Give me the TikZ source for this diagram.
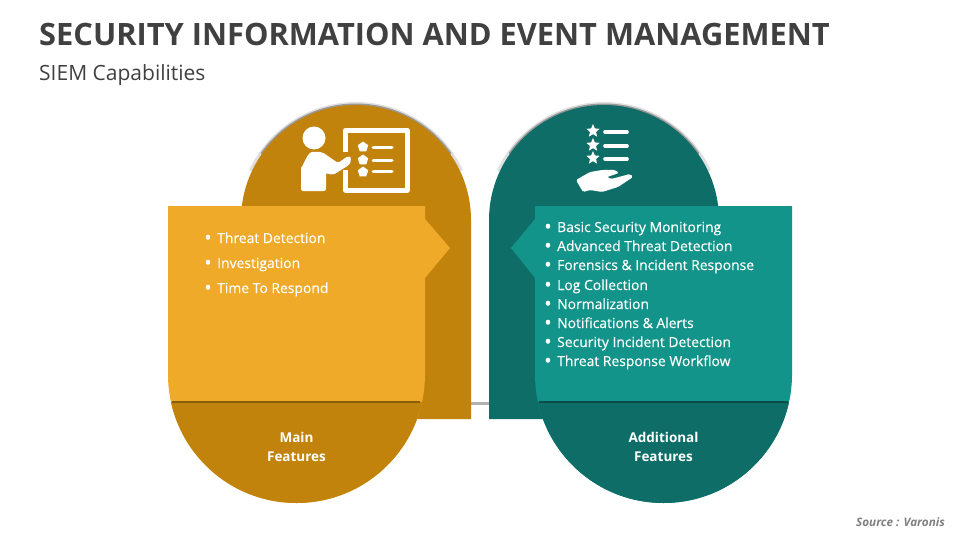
\documentclass[tikz,border=0pt]{standalone}
\usepackage{fontspec}
\setmainfont{Open Sans}
\newfontfamily\itemfont[FakeBold=0.25]{Open Sans}
\usetikzlibrary{shapes.geometric}
\definecolor{golddark}{HTML}{C2830D}
\definecolor{goldlight}{HTML}{EFAA29}
\definecolor{tealdark}{HTML}{0E6E67}
\definecolor{teallight}{HTML}{12948A}
\definecolor{titlegray}{HTML}{404040}
\tikzstyle{heading}=[anchor=base west, inner sep=0pt, text=titlegray]
\tikzstyle{item}=[anchor=base west, inner sep=0pt, text=white, font=\itemfont\fontsize{13.9}{16}\selectfont]
\tikzstyle{caption}=[align=center, inner sep=0pt, text=white, font=\fontsize{13.5}{19}\selectfont\bfseries]
\tikzstyle{iconline}=[white, line width=3.6pt, line cap=round]
\tikzstyle{iconstar}=[star, star points=5, star point ratio=2.2, fill=white, inner sep=0pt, minimum size=14pt]
\tikzstyle{iconpent}=[regular polygon, regular polygon sides=5, fill=white, inner sep=0pt, minimum size=11pt]
\newcommand{\bul}{\makebox[13pt][l]{\raisebox{-1.5pt}{\fontsize{20}{20}\selectfont\textbullet}}}
\begin{document}
\begin{tikzpicture}[x=1pt, y=-1pt]
    \useasboundingbox (0,0) rectangle (960,540);
    \node[heading, font=\fontsize{30.8}{36}\selectfont\bfseries] (title) at (39,46) {SECURITY INFORMATION AND EVENT MANAGEMENT};
    \node[heading, font=\fontsize{21}{24}\selectfont] (subtitle) at (39,81) {SIEM Capabilities};
    \node[anchor=base east, inner sep=0pt, text=gray, font=\fontsize{11.7}{12}\selectfont\bfseries\itshape] (source) at (945,526) {Source : Varonis};
    % link behind the two arches
    \coordinate (linkl) at (471,403);
    \coordinate (linkr) at (489,403);
    \draw[black!30, line width=3pt] (linkl)--(linkr);
    % soft edge of the arches
    \draw[black!12, line width=4pt] (356,220) ++(205:116) arc[start angle=205, end angle=335, radius=116];
    \draw[black!40, line width=2pt] (356,220) ++(215:115.5) arc[start angle=215, end angle=325, radius=115.5];
    \draw[black!12, line width=4pt] (604,220) ++(205:116) arc[start angle=205, end angle=335, radius=116];
    \draw[black!40, line width=2pt] (604,220) ++(215:115.5) arc[start angle=215, end angle=325, radius=115.5];
    % arches
    \fill[golddark] (241,419)--(241,220) arc[start angle=180, end angle=0, x radius=115, y radius=-115]--(471,419)--cycle;
    \fill[tealdark] (489,419)--(489,220) arc[start angle=180, end angle=0, x radius=115, y radius=-115]--(719,419)--cycle;
    % panels
    \fill[goldlight] (168,206)--(425,206)--(425,219)--(450,248)--(425,278)--(425,374.5)
        arc[start angle=0, end angle=180, x radius=128.5, y radius=128.5]--cycle;
    \fill[teallight] (792,206)--(535,206)--(535,219)--(511,248)--(535,278)--(535,374.5)
        arc[start angle=180, end angle=0, x radius=128.5, y radius=128.5]--cycle;
    \begin{scope}
        \clip (168,402) rectangle (425,510);
        \fill[golddark] (425,374.5) arc[start angle=0, end angle=180, radius=128.5]--cycle;
    \end{scope}
    \begin{scope}
        \clip (535,402) rectangle (792,510);
        \fill[tealdark] (792,374.5) arc[start angle=0, end angle=180, radius=128.5]--cycle;
    \end{scope}
    \draw[golddark!70!black, line width=2pt] (172,402)--(420,402);
    \draw[tealdark!70!black, line width=2pt] (539,402)--(788,402);
    % left list
    \node[item] (threat) at (204,243) {\bul Threat Detection};
    \node[item] (invest) at (204,268) {\bul Investigation};
    \node[item] (respond) at (204,293) {\bul Time To Respond};
    % right list
    \node[item] (basic) at (544,232) {\bul Basic Security Monitoring};
    \node[item] (advanced) at (544,251) {\bul Advanced Threat Detection};
    \node[item] (forensics) at (544,270) {\bul Forensics \& Incident Response};
    \node[item] (logs) at (544,290) {\bul Log Collection};
    \node[item] (norm) at (544,309) {\bul Normalization};
    \node[item] (notif) at (544,328) {\bul Notifications \& Alerts};
    \node[item] (incident) at (544,347) {\bul Security Incident Detection};
    \node[item] (workflow) at (544,366) {\bul Threat Response Workflow};
    % captions
    \node[caption] (mainf) at (296.5,446.5) {Main\\Features};
    \node[caption] (addf) at (663.5,446.5) {Additional\\Features};
    % presenter icon
    \fill[white] (314,138) circle[radius=11.5];
    \fill[white, rounded corners=2pt] (301,191)--(301,165) to[out=-90, in=180] (314,152)--(322,152)--(338,163)--(348,156)
        to[out=-20, in=60] (349,165)--(333,175)--(326,173)--(326,191)--cycle;
    \draw[white, line width=5pt, line join=round] (345.5,152)--(345.5,130.5)--(407,130.5)--(407,190)--(345.5,190)--(345.5,170);
    \node[iconpent] (pa) at (363,147) {};
    \node[iconpent] (pb) at (363,160) {};
    \node[iconpent] (pc) at (363,172) {};
    \draw[iconline, line width=3pt] (373,148)--(392,148) (373,160.5)--(392,160.5) (373,172)--(392,172);
    % rating icon
    \node[iconstar] (sa) at (593,131) {};
    \node[iconstar] (sb) at (593,145) {};
    \node[iconstar] (sc) at (593,158) {};
    \draw[iconline] (605,132)--(627,132) (605,146)--(627,146) (605,159)--(627,159);
    \fill[white, rounded corners=1.5pt] (576,180)--(590,172)--(602,170)--(615,170)--(619,173)--(607,177)--(611,179)--(630,174)--(633,177)
        --(618,187)--(602,192)--(590,190)--(583,192)--cycle;
\end{tikzpicture}
\end{document}
